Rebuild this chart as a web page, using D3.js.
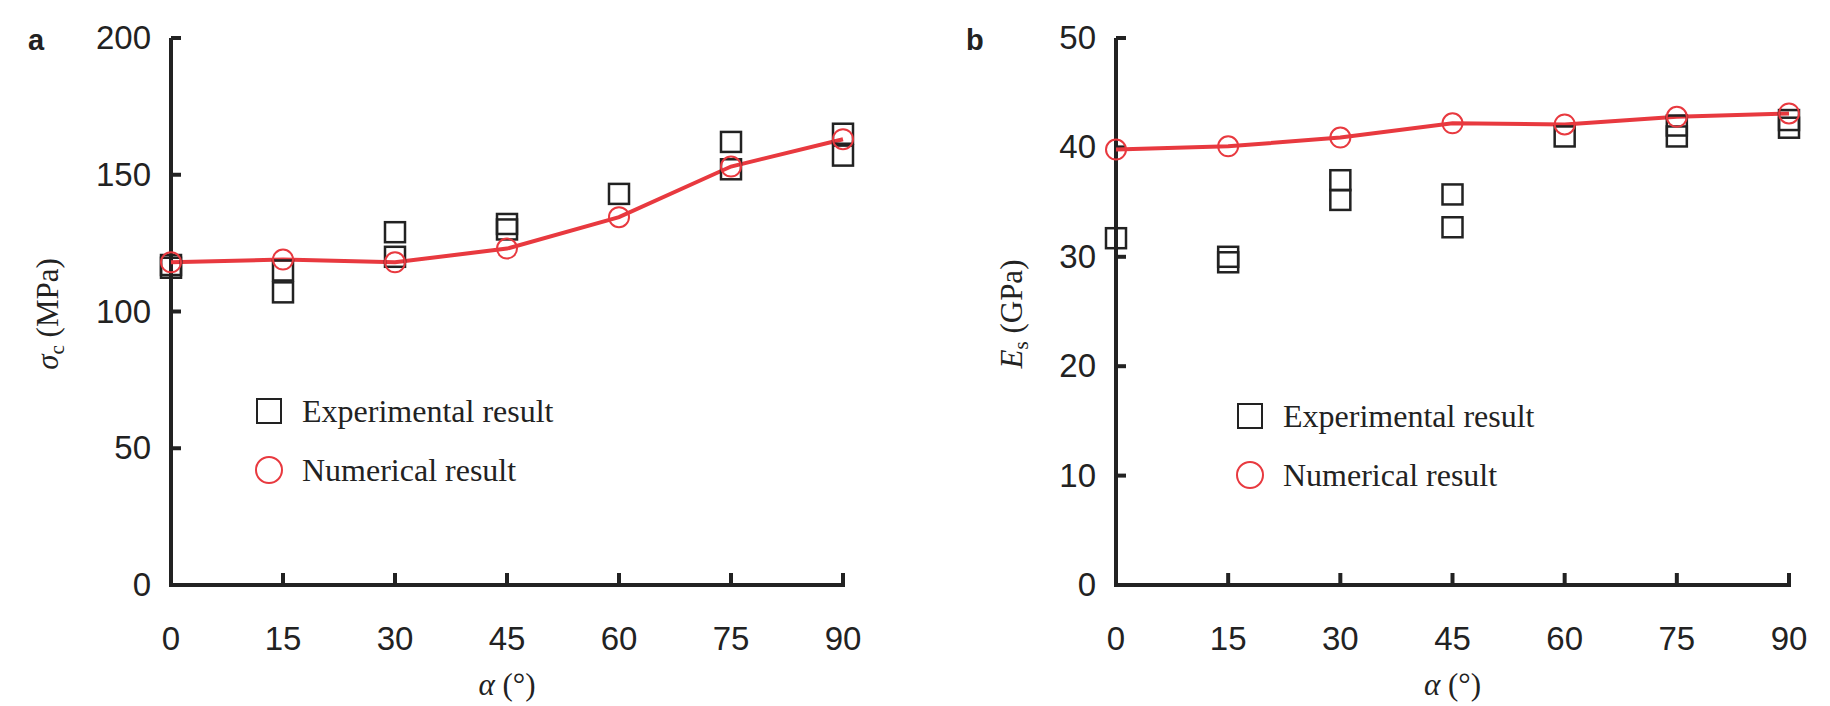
<!DOCTYPE html><html><head><meta charset="utf-8"><script src="https://cdn.jsdelivr.net/npm/d3@7"></script>
<style>body{margin:0;background:#fff}</style></head><body><svg id="c" width="1830" height="706"></svg>
<script>
const angles=[0,15,30,45,60,75,90];
const xTicks=[0,15,30,45,60,75,90];
const expA=[[0,116],[0,117],[15,115],[15,107],[30,129],[30,120],[45,132],[45,130],[60,143],[75,162],[75,152],[90,165],[90,157]];
const numA=[118,119,118,123,134.5,153,163];
const expB=[[0,31.7],[15,30],[15,29.5],[30,37],[30,35.2],[45,35.7],[45,32.7],[60,41],[75,42],[75,41],[90,42.5],[90,41.8]];
const numB=[39.8,40.1,40.9,42.2,42.1,42.8,43.1];
const yTicksA=[0,50,100,150,200], yTicksB=[0,10,20,30,40,50];
const svg=d3.select("#c");
function panel(o){
  const x=d3.scaleLinear().domain([0,90]).range([o.x0,o.x1]);
  const y=d3.scaleLinear().domain([0,o.ymax]).range([585,38]);
  const g=svg.append("g");
  const col="#222";
  g.append("line").attr("x1",o.x0).attr("x2",o.x0).attr("y1",38).attr("y2",587).attr("stroke",col).attr("stroke-width",4);
  g.append("line").attr("x1",o.x0-2).attr("x2",o.x1+2).attr("y1",585).attr("y2",585).attr("stroke",col).attr("stroke-width",4);
  o.yt.forEach(t=>{g.append("line").attr("x1",o.x0).attr("x2",o.x0+10).attr("y1",y(t)).attr("y2",y(t)).attr("stroke",col).attr("stroke-width",4);
    g.append("text").attr("x",o.x0-20).attr("y",y(t)+11).attr("text-anchor","end").attr("font-family","Liberation Sans Narrow, Liberation Sans, Arial").attr("font-size",33).attr("fill",col).text(t);});
  xTicks.forEach(t=>{ if(t>0) g.append("line").attr("x1",x(t)).attr("x2",x(t)).attr("y1",585).attr("y2",573).attr("stroke",col).attr("stroke-width",4);
    g.append("text").attr("x",x(t)).attr("y",650).attr("text-anchor","middle").attr("font-family","Liberation Sans Narrow, Liberation Sans, Arial").attr("font-size",33).attr("fill",col).text(t);});
  g.append("path").datum(angles.map((a,i)=>[a,o.num[i]])).attr("d",d3.line().x(d=>x(d[0])).y(d=>y(d[1]))).attr("fill","none").attr("stroke","#e8393f").attr("stroke-width",4);
  g.selectAll(".s").data(o.exp).enter().append("rect").attr("x",d=>x(d[0])-10).attr("y",d=>y(d[1])-10).attr("width",20).attr("height",20).attr("fill","none").attr("stroke",col).attr("stroke-width",2.5);
  g.selectAll(".c").data(angles.map((a,i)=>[a,o.num[i]])).enter().append("circle").attr("cx",d=>x(d[0])).attr("cy",d=>y(d[1])).attr("r",10).attr("fill","none").attr("stroke","#e8393f").attr("stroke-width",2);
  g.append("rect").attr("x",o.lx-12).attr("y",o.ly-12).attr("width",24).attr("height",24).attr("fill","none").attr("stroke",col).attr("stroke-width",2);
  g.append("circle").attr("cx",o.lx).attr("cy",o.ly+59).attr("r",13).attr("fill","none").attr("stroke","#e8393f").attr("stroke-width",2);
  g.append("text").attr("x",o.lx+33).attr("y",o.ly+11).attr("font-family","Liberation Serif, Times New Roman").attr("font-size",32).attr("fill",col).text("Experimental result");
  g.append("text").attr("x",o.lx+33).attr("y",o.ly+70).attr("font-family","Liberation Serif, Times New Roman").attr("font-size",32).attr("fill",col).text("Numerical result");
  g.append("text").attr("x",o.lab).attr("y",50).attr("font-family","Liberation Sans, Arial").attr("font-weight","bold").attr("font-size",29).attr("fill",col).text(o.letter);
  const xt=g.append("text").attr("x",(o.x0+o.x1)/2).attr("y",695).attr("text-anchor","middle").attr("font-family","Liberation Serif, Times New Roman").attr("font-size",31).attr("fill",col);
  xt.append("tspan").attr("font-style","italic").text("α");xt.append("tspan").text(" (°)");
  const yt=g.append("text").attr("transform",`translate(${o.ylx},314) rotate(-90)`).attr("text-anchor","middle").attr("font-family","Liberation Serif, Times New Roman").attr("font-size",31).attr("fill",col);
  yt.append("tspan").attr("font-style","italic").text(o.ysym);yt.append("tspan").attr("font-size",21).attr("dy",6).text(o.ysub);yt.append("tspan").attr("dy",-6).text(" ("+o.unit+")");
}
panel({x0:171,x1:843,ymax:200,yt:yTicksA,exp:expA,num:numA,lx:269,ly:411,lab:28,letter:"a",ylx:58,ysym:"σ",ysub:"c",unit:"MPa"});
panel({x0:1116,x1:1789,ymax:50,yt:yTicksB,exp:expB,num:numB,lx:1250,ly:416,lab:966,letter:"b",ylx:1022,ysym:"E",ysub:"s",unit:"GPa"});
</script></body></html>
